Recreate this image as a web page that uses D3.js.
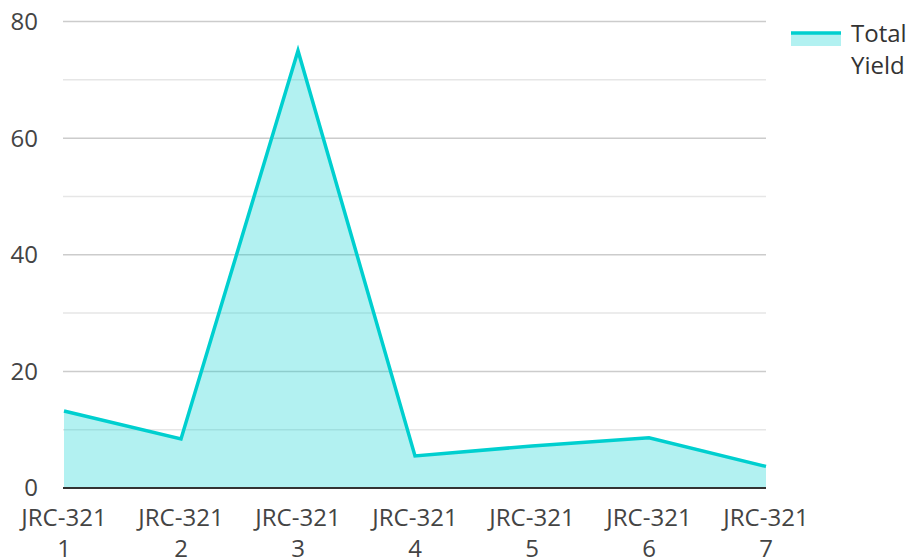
<!DOCTYPE html>
<html><head><meta charset="utf-8">
<script src="https://cdn.jsdelivr.net/npm/d3@7"></script>
<style>body{margin:0;background:#fff}svg{display:block;font-family:"Open Sans",sans-serif}</style>
</head><body>
<script>
const categories = ["JRC-321 1","JRC-321 2","JRC-321 3","JRC-321 4","JRC-321 5","JRC-321 6","JRC-321 7"];
const totalYield = [13.2, 8.4, 75.0, 5.5, 7.2, 8.6, 3.7];
const majorTicks = [0, 20, 40, 60, 80];
const minorTicks = [10, 30, 50, 70];
const seriesName = ["Total", "Yield"];

const W = 908, H = 560;
const m = {left: 64, right: 142, top: 21.5, bottom: 72};
const svg = d3.select("body").append("svg").attr("width", W).attr("height", H);
const x = d3.scalePoint().domain(categories).range([m.left, W - m.right]).padding(0);
const y = d3.scaleLinear().domain([0, 80]).range([H - m.bottom, m.top]);
const lineColor = "#00cfcf";

const g = svg.append("g");
g.selectAll(".minor").data(minorTicks).join("line")
  .attr("x1", m.left - 1).attr("x2", W - m.right).attr("y1", d => y(d)).attr("y2", d => y(d))
  .attr("stroke", "#e6e6e6").attr("stroke-width", 1.5);
g.selectAll(".major").data(majorTicks.filter(d => d > 0)).join("line")
  .attr("x1", m.left - 1).attr("x2", W - m.right).attr("y1", d => y(d)).attr("y2", d => y(d))
  .attr("stroke", "#cccccc").attr("stroke-width", 1.5);

const area = d3.area().x((d, i) => x(categories[i])).y0(y(0)).y1(d => y(d));
const line = d3.line().x((d, i) => x(categories[i])).y(d => y(d));
g.append("path").datum(totalYield).attr("d", area).attr("fill", lineColor).attr("fill-opacity", 0.3);
g.append("path").datum(totalYield).attr("d", line).attr("fill", "none").attr("stroke", lineColor).attr("stroke-width", 3.5).attr("stroke-linejoin", "miter");

g.append("line").attr("x1", m.left - 1).attr("x2", W - m.right).attr("y1", y(0)).attr("y2", y(0))
  .attr("stroke", "#333").attr("stroke-width", 2);

// y labels
svg.selectAll(".ylab").data(majorTicks).join("text")
  .attr("x", 38).attr("y", d => y(d)).attr("dy", "0.35em").attr("text-anchor", "end")
  .attr("font-size", 24).attr("fill", "#444").text(d => d);

// x labels
const xl = svg.selectAll(".xlab").data(categories).join("text")
  .attr("text-anchor", "middle").attr("font-size", 24).attr("fill", "#444");
xl.each(function(d) {
  const parts = d.split(" ");
  const t = d3.select(this);
  parts.forEach((p, i) => t.append("tspan").attr("x", x(d)).attr("y", 526 + i * 31).text(p));
});

// legend
const lg = svg.append("g");
lg.append("rect").attr("x", 791).attr("y", 33).attr("width", 50).attr("height", 13).attr("fill", lineColor).attr("fill-opacity", 0.3);
lg.append("line").attr("x1", 791).attr("x2", 841).attr("y1", 33).attr("y2", 33).attr("stroke", lineColor).attr("stroke-width", 3.5);
lg.selectAll("text").data(seriesName).join("text")
  .attr("x", 851).attr("y", (d, i) => 42 + i * 32).attr("font-size", 24).attr("fill", "#333").text(d => d);
</script>
</body></html>
